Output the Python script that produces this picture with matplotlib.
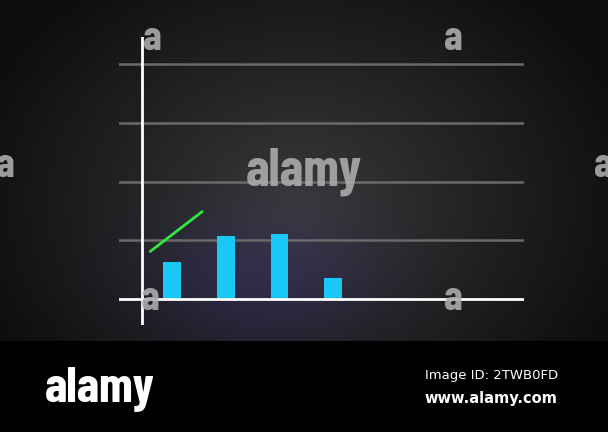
import numpy as np
import matplotlib.pyplot as plt

# chart values
bar_positions = [0, 1, 2, 3]
bar_heights = [0.63, 1.08, 1.10, 0.36]
grid_levels = [1, 2, 3, 4]
trend_x = [-0.41, 0.56]
trend_y = [0.81, 1.49]

W, H = 608, 432
BAND = 91  # black footer height in px
NARROW = ["Barlow Condensed", "DejaVu Sans"]

fig = plt.figure(figsize=(W / 100, H / 100), dpi=100)
fig.patch.set_facecolor("black")

# background: dark radial gradient with a bluish glow near the bars
bg = fig.add_axes([0, BAND / H, 1, 1 - BAND / H])
bg.set_axis_off()
yy, xx = np.mgrid[0:341, 0:608]
r = np.sqrt(((xx - 300) / 330.0) ** 2 + ((yy - 200) / 260.0) ** 2)
base = np.clip(0.22 - 0.16 * r, 0.05, 0.25)
glow = np.exp(-(((xx - 260) / 120.0) ** 2 + ((yy - 280) / 70.0) ** 2))
img = np.zeros((341, 608, 3))
img[..., 0] = base + 0.02 * glow
img[..., 1] = base + 0.01 * glow
img[..., 2] = base + 0.12 * glow
bg.imshow(np.clip(img, 0, 1), aspect="auto", extent=[0, 608, 341, 0])
bg.set_xlim(0, 608)
bg.set_ylim(341, 0)

# main chart axes, placed in pixel terms
left, right, top, bottom = 119, 524, 37, 325
ax = fig.add_axes([left / W, 1 - bottom / H, (right - left) / W, (bottom - top) / H])
ax.set_axis_off()
ax.set_xlim(-0.99, 6.55)
ax.set_ylim(-0.44, 4.46)

for g in grid_levels:
    ax.axhline(g, color="#6a6a6a", lw=1.8, zorder=1)

ax.bar(bar_positions, bar_heights, width=0.33, color="#18c8f5", zorder=2)
ax.plot(trend_x, trend_y, color="#2ee83a", lw=2, zorder=3, solid_capstyle="round")

ax.axhline(0, color="white", lw=2, zorder=4)
ax.axvline(-0.56, color="white", lw=2, zorder=4)

# watermarks
wm = dict(color="#ababab", fontweight="bold", ha="center", va="baseline",
          zorder=5, family=NARROW, alpha=0.9)
fig.text(304 / W, 1 - 186 / H, "alamy", fontsize=38, **wm)
for px, py in [(152, 50), (453, 50), (5, 177), (603, 177), (150, 310), (453, 310)]:
    fig.text(px / W, 1 - py / H, "a", fontsize=30, **wm)

# footer
fig.text(100 / W, 1 - 402 / H, "alamy", color="white", fontsize=36,
         fontweight="bold", ha="center", va="baseline", family=NARROW)
fig.text(492 / W, 1 - 375 / H, "Image ID: 2TWB0FD", color="white",
         fontsize=9.5, ha="center", va="center")
fig.text(491 / W, 1 - 398 / H, "www.alamy.com", color="white",
         fontsize=10.5, fontweight="bold", ha="center", va="center")

plt.savefig("out.png", dpi=100, facecolor=fig.get_facecolor())
